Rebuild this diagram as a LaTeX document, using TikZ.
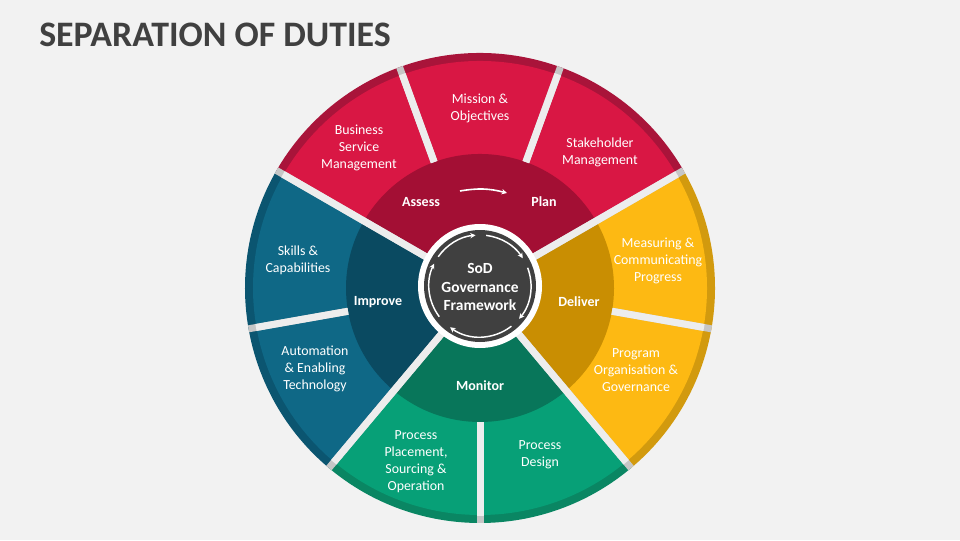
\documentclass[tikz,border=0pt]{standalone}
\usepackage{fontspec}
\setmainfont{Carlito}
\usetikzlibrary{arrows.meta}
\definecolor{bg}{HTML}{F2F2F2}
\definecolor{titlecol}{HTML}{404040}
\definecolor{redO}{HTML}{D91744}
\definecolor{redR}{HTML}{A9143A}
\definecolor{redI}{HTML}{A30F34}
\definecolor{yelO}{HTML}{FDB913}
\definecolor{yelR}{HTML}{D29A0E}
\definecolor{yelI}{HTML}{C98E02}
\definecolor{grnO}{HTML}{07A077}
\definecolor{grnR}{HTML}{0A8663}
\definecolor{grnI}{HTML}{08765A}
\definecolor{bluO}{HTML}{0F6886}
\definecolor{bluR}{HTML}{0B5570}
\definecolor{bluI}{HTML}{0A4A61}
\definecolor{gapcol}{HTML}{EDEDED}
\definecolor{gaprim}{HTML}{C6C6C6}
\definecolor{hub}{HTML}{404040}
\newcommand{\segsector}[4]{\fill[#4] (O) -- ++(#1:#3) arc[start angle=#1,end angle=#2,radius={#3*0.75pt}] -- cycle;}
\begin{document}
\begin{tikzpicture}[x=0.75pt,y=0.75pt,
  lbl/.style={text=white, align=center, inner sep=0pt, font=\fontsize{10.4}{12.75}\selectfont},
  stage/.style={text=white, inner sep=0pt, font=\bfseries\fontsize{10.5}{12.75}\selectfont},
  hubtext/.style={text=white, align=center, inner sep=0pt, font=\bfseries\fontsize{11.6}{13.9}\selectfont},
  gapo/.style={draw=gaprim, line width=5.25pt},
  gapi/.style={draw=gapcol, line width=5.25pt},
  cyc/.style={draw=white, line width=1.1pt, -{Stealth[length=4pt,width=4pt]}}]
\fill[bg] (0,0) rectangle (960,540);
\useasboundingbox (0,0) rectangle (960,540);
\coordinate (O) at (480,252);
\coordinate (Oc) at (480,254);
% rims
\segsector{30}{150}{235}{redR}
\segsector{150}{230}{235}{bluR}
\segsector{230}{310}{235}{grnR}
\segsector{-50}{30}{235}{yelR}
% outer segments
\segsector{30}{150}{227}{redO}
\segsector{150}{230}{227}{bluO}
\segsector{230}{310}{227}{grnO}
\segsector{-50}{30}{227}{yelO}
% inner stages
\segsector{30}{150}{134}{redI}
\segsector{150}{230}{134}{bluI}
\segsector{230}{310}{134}{grnI}
\segsector{-50}{30}{134}{yelI}
% gaps between groups
\foreach \a in {30,150,230,310}{
  \draw[gapo] (O) -- ++(\a:235);
  \draw[gapi] (O) -- ++(\a:227.5);
}
% gaps inside groups
\foreach \a in {70,110,190,270,350}{
  \draw[gapo] (O) ++(\a:134) -- ++(\a:101);
  \draw[gapi] (O) ++(\a:134) -- ++(\a:93.5);
}
% hub
\fill[white] (Oc) circle[radius=46.5pt];
\fill[hub] (Oc) circle[radius=42pt];
\draw[cyc] (Oc) ++(145:51) arc[start angle=145,end angle=95,radius=38.25pt];
\draw[cyc] (Oc) ++(83:51) arc[start angle=83,end angle=33,radius=38.25pt];
\draw[cyc] (Oc) ++(21:51) arc[start angle=21,end angle=-40,radius=38.25pt];
\draw[cyc] (Oc) ++(-52:51) arc[start angle=-52,end angle=-126,radius=38.25pt];
\draw[cyc] (Oc) ++(-143:51) arc[start angle=-143,end angle=-206,radius=38.25pt];
\node[hubtext] (hubl) at (480,253) {SoD\\Governance\\Framework};
% title
\node[anchor=base west, inner sep=0pt, text=titlecol, font=\bfseries\fontsize{26.9}{31}\selectfont] (title) at (39,493.3) {SEPARATION OF DUTIES};
% stage labels
\node[stage] (assess) at (421,338.3) {Assess};
\node[stage] (plan) at (544,338.3) {Plan};
\node[stage] (improve) at (378,238.3) {Improve};
\node[stage] (deliver) at (579,238.3) {Deliver};
\node[stage] (monitor) at (480,154.3) {Monitor};
\coordinate (ap1) at (460,349);
\coordinate (ap2) at (507,347);
\draw[white, line width=1.2pt, -{Stealth[length=4pt,width=4pt]}] (ap1) to[bend left=12] (ap2);
% outer labels
\node[lbl] (bsm) at (359,392.5) {Business\\Service\\Management};
\node[lbl] (mo) at (480,432) {Mission \&\\Objectives};
\node[lbl] (sm) at (600,388) {Stakeholder\\Management};
\node[lbl] (mcp) at (658,278.7) {Measuring \&\\Communicating\\Progress};
\node[lbl] (pog) at (636,170.3) {Program\\Organisation \&\\Governance};
\node[lbl] (pd) at (540,84.8) {Process\\Design};
\node[lbl] (pps) at (416,78.8) {Process\\Placement,\\Sourcing \&\\Operation};
\node[lbl] (aet) at (315,171) {Automation\\\& Enabling\\Technology};
\node[lbl] (sc) at (298,280) {Skills \&\\Capabilities};
\end{tikzpicture}
\end{document}
